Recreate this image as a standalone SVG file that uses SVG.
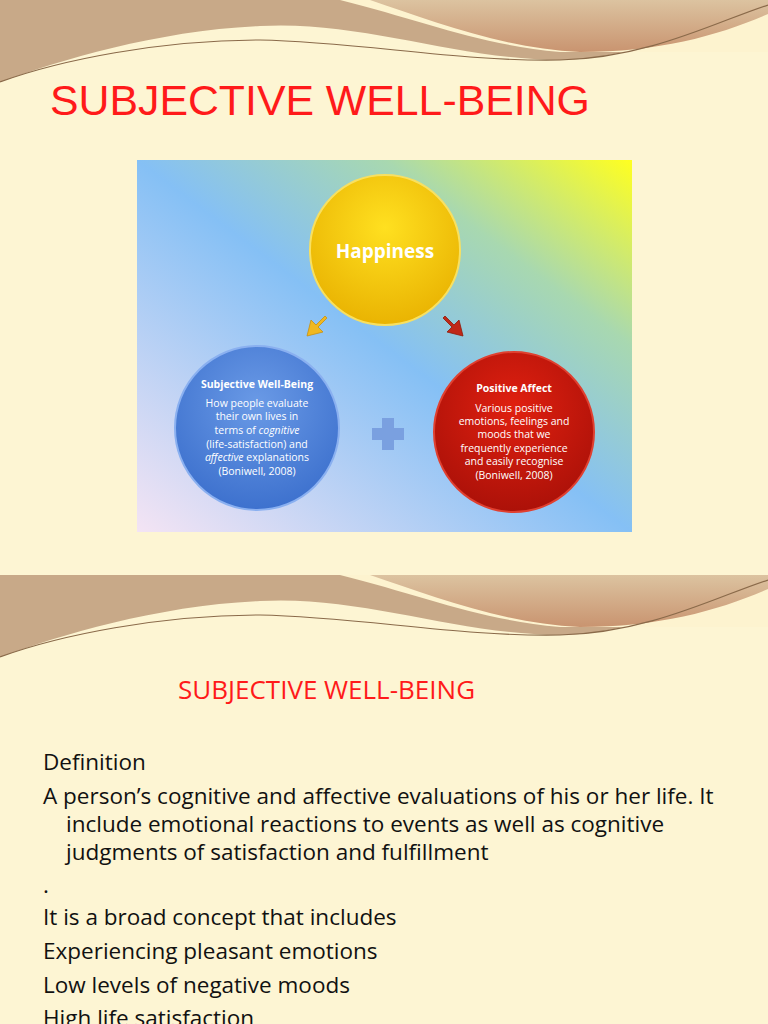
<svg xmlns="http://www.w3.org/2000/svg" width="768" height="1024" viewBox="0 0 768 1024">
<defs>
<linearGradient id="bg" x1="0" y1="1" x2="1" y2="0">
<stop offset="0" stop-color="#f4e4f4"/><stop offset="0.5" stop-color="#85c0f5"/><stop offset="0.75" stop-color="#a8d8b0"/><stop offset="1" stop-color="#ffff20"/>
</linearGradient>
<radialGradient id="yel" cx="0.5" cy="0.35" r="0.7"><stop offset="0" stop-color="#ffe020"/><stop offset="1" stop-color="#e8b000"/></radialGradient>
<radialGradient id="blu" cx="0.5" cy="0.35" r="0.7"><stop offset="0" stop-color="#6a9ae6"/><stop offset="1" stop-color="#3a6ecc"/></radialGradient>
<radialGradient id="red" cx="0.5" cy="0.35" r="0.7"><stop offset="0" stop-color="#e02010"/><stop offset="1" stop-color="#a81008"/></radialGradient>
<linearGradient id="str" x1="0" y1="0" x2="0" y2="1"><stop offset="0" stop-color="#dcc3a0"/><stop offset="1" stop-color="#c99470"/></linearGradient>
<g id="wave">
<path d="M0,0 H768 V0 C700,20 640,60 560,60 C460,60 360,20 260,26 C160,30 60,60 0,82 Z" fill="#c8a988"/>
<path d="M340,0 C420,20 480,45 560,52 L768,52 L768,0 Z" fill="#fdf3cf"/>
<path d="M370,0 H768 V14 C720,35 660,52 580,52 C500,48 430,20 370,0 Z" fill="url(#str)"/>
<path d="M0,82 C60,60 160,40 260,40 C360,42 460,62 560,60 C650,58 720,20 768,5" fill="none" stroke="#8a6a4a" stroke-width="1.2"/>
</g>
</defs>
<style>
.t{font-family:"Liberation Sans",Arial,sans-serif;fill:#ff1a1a}
.b{font-family:"Open Sans","Liberation Sans",sans-serif;font-size:22.5px;fill:#111}
.c{font-family:"Open Sans","Liberation Sans",sans-serif;fill:#fff;text-anchor:middle;font-size:10.5px}
</style>
<rect width="768" height="1024" fill="#fdf5d3"/>
<use href="#wave"/>
<use href="#wave" y="575"/>
<text class="t" x="50" y="115" style="font-size:42.8px">SUBJECTIVE WELL-BEING</text>
<g id="diagram">
<rect x="137" y="160" width="495" height="372" fill="url(#bg)"/>
<g id="connectors">
<path d="M327,318 L318,327 L323,332 L307,336 L311,320 L316,325 L325,316 Z" fill="#f0b820" stroke="#c89010" stroke-width="0.8"/>
<path d="M443,318 L452,327 L447,332 L463,336 L459,320 L454,325 L445,316 Z" fill="#c02818" stroke="#901808" stroke-width="0.8"/>
</g>
<g id="happiness">
<circle cx="385" cy="250" r="75" fill="url(#yel)" stroke="#f8e060" stroke-width="2"/>
<text class="c" x="385" y="258" style="font-size:19px;font-weight:bold">Happiness</text>
</g>
<g id="swb">
<circle cx="257" cy="428" r="82" fill="url(#blu)" stroke="#8ab0f0" stroke-width="2"/>
<text class="c" x="257" y="388" font-weight="bold">Subjective Well-Being</text>
<text class="c" x="257" y="407">How people evaluate</text>
<text class="c" x="257" y="420">their own lives in</text>
<text class="c" x="257" y="434">terms of <tspan font-style="italic">cognitive</tspan></text>
<text class="c" x="257" y="448">(life-satisfaction) and</text>
<text class="c" x="257" y="461"><tspan font-style="italic">affective</tspan> explanations</text>
<text class="c" x="257" y="475">(Boniwell, 2008)</text>
</g>
<g id="plus">
<path d="M382,418 h12 v10 h10 v12 h-10 v10 h-12 v-10 h-10 v-12 h10 Z" fill="#7aa0e0"/>
</g>
<g id="pa">
<circle cx="514" cy="432" r="80" fill="url(#red)" stroke="#e04030" stroke-width="2"/>
<text class="c" x="514" y="392" font-weight="bold">Positive Affect</text>
<text class="c" x="514" y="412">Various positive</text>
<text class="c" x="514" y="425">emotions, feelings and</text>
<text class="c" x="514" y="438">moods that we</text>
<text class="c" x="514" y="452">frequently experience</text>
<text class="c" x="514" y="465">and easily recognise</text>
<text class="c" x="514" y="479">(Boniwell, 2008)</text>
</g>
</g>
<text class="t" x="178" y="699" style="font-size:26px;font-family:'Open Sans',sans-serif">SUBJECTIVE WELL-BEING</text>
<text class="b" x="43" y="770">Definition</text>
<text class="b" x="43" y="804"> A person’s cognitive and affective evaluations of his or her life. It</text>
<text class="b" x="66" y="832">include emotional reactions to events as well as cognitive</text>
<text class="b" x="66" y="860">judgments of satisfaction and fulfillment</text>
<text class="b" x="43" y="893">.</text>
<text class="b" x="43" y="925">It is a broad concept that includes</text>
<text class="b" x="43" y="959">Experiencing pleasant emotions</text>
<text class="b" x="43" y="993">Low levels of negative moods</text>
<text class="b" x="43" y="1026"> High life satisfaction</text>
</svg>
